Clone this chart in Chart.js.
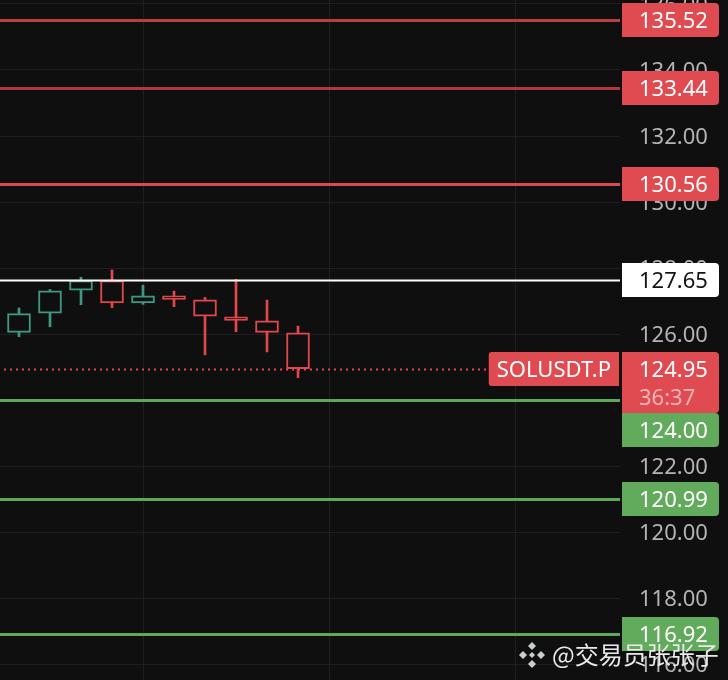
<!DOCTYPE html>
<html>
<head>
<meta charset="utf-8">
<script src="https://cdn.jsdelivr.net/npm/chart.js@4.4.1/dist/chart.umd.min.js"></script>
<style>
    html, body { margin: 0; padding: 0; background: #0f0f0f; }
    #khung { width: 728px; height: 680px; }
</style>
</head>
<body>
<div id="khung"><canvas id="bieuDoNen"></canvas></div>
<script>
// dữ liệu nến
const nenMo   = [126.05, 126.63, 127.33, 127.62, 126.94, 127.16, 127.04, 126.52, 126.40, 126.04];
const nenDong = [126.62, 127.31, 127.62, 126.94, 127.16, 127.05, 126.54, 126.41, 126.05, 124.95];
const nenCao  = [126.79, 127.35, 127.72, 127.94, 127.48, 127.30, 127.11, 127.66, 127.03, 126.24];
const nenThap = [125.92, 126.22, 126.89, 126.80, 126.90, 126.83, 125.37, 126.07, 125.46, 124.68];

// các mức giá kẻ ngang
const mucKhang = [135.52, 133.44, 130.56];
const mucGiuaTrang = [127.65];
const mucHoTro = [124.00, 120.99, 116.92];

// giá hiện tại
const giaHienTai = 124.95;
const demNguoc = "36:37";
const maGiaoDich = "SOLUSDT.P";

// vạch chia trục
const vachTrucY = [116, 118, 120, 122, 124, 126, 128, 130, 132, 134, 136];
const luoiDoc = [4, 10, 16];

const MAU_NEN = "#0f0f0f";
const MAU_TANG = "#3f9883";
const MAU_GIAM = "#e2474c";
const MAU_DO_NHAN = "#e04b51";
const MAU_XANH_NHAN = "#62ab5c";
const MAU_LUOI = "#1e1e1e";
const FONT_SO = "22px 'Noto Sans'";

const chiSo = nenMo.map((_, i) => i);
const mauNen = chiSo.map((i) => (nenDong[i] >= nenMo[i] ? MAU_TANG : MAU_GIAM));

// vẽ đường mức giá + nhãn bên phải
const pluginMucGia = {
    id: "mucGia",
    afterDatasetsDraw(chart) {
        const ctx = chart.ctx;
        const y = chart.scales.y;
        const vung = chart.chartArea;
        ctx.save();

        const veDuong = (gia, mau, day) => {
            const py = Math.round(y.getPixelForValue(gia)) + 0.5;
            ctx.strokeStyle = mau;
            ctx.lineWidth = day;
            ctx.beginPath();
            ctx.moveTo(vung.left, py);
            ctx.lineTo(vung.right, py);
            ctx.stroke();
        };

        const mauKhang = ["#b8403f", "#b03a3b", "#dc4a4d"];
        mucKhang.forEach((g, i) => veDuong(g, mauKhang[i], 3));
        mucGiuaTrang.forEach((g) => veDuong(g, "#ffffff", 2));
        mucHoTro.forEach((g) => veDuong(g, "#5fa85a", 3));

        // đường chấm giá hiện tại
        const pyGia = Math.round(y.getPixelForValue(giaHienTai)) + 0.5;
        ctx.setLineDash([2, 4]);
        ctx.strokeStyle = "#e8474d";
        ctx.lineWidth = 2;
        ctx.beginPath();
        ctx.moveTo(vung.left + 4, pyGia);
        ctx.lineTo(vung.right - 131, pyGia);
        ctx.stroke();
        ctx.setLineDash([]);
        ctx.restore();
    },
    afterDraw(chart) {
        const ctx = chart.ctx;
        const y = chart.scales.y;
        const vung = chart.chartArea;
        const xHop = vung.right + 2;
        const rongHop = 97;
        const caoHop = 34;
        const xChu = vung.right + 19;
        ctx.save();
        ctx.font = FONT_SO;
        ctx.textBaseline = "middle";
        ctx.textAlign = "left";

        // danh sách nhãn
        let nhan = [];
        mucKhang.forEach((g) => nhan.push({ gia: g, nen: MAU_DO_NHAN, chu: "#ffffff", cao: caoHop }));
        mucGiuaTrang.forEach((g) => nhan.push({ gia: g, nen: "#ffffff", chu: "#131313", cao: caoHop }));
        nhan.push({ gia: giaHienTai, nen: MAU_DO_NHAN, chu: "#ffffff", cao: 61, hienTai: true });
        mucHoTro.forEach((g) => nhan.push({ gia: g, nen: MAU_XANH_NHAN, chu: "#ffffff", cao: caoHop }));
        nhan.sort((a, b) => b.gia - a.gia);

        let dayTruoc = -Infinity;
        nhan.forEach((n) => {
            const py = y.getPixelForValue(n.gia);
            let tren = Math.max(Math.round(py - caoHop / 2), dayTruoc);
            ctx.fillStyle = n.nen;
            ctx.beginPath();
            ctx.roundRect(xHop, tren, rongHop, n.cao, [0, 4, 4, 0]);
            ctx.fill();
            ctx.fillStyle = n.chu;
            ctx.fillText(n.gia.toFixed(2), xChu, tren + caoHop / 2 + 2);
            if (n.hienTai) {
                ctx.fillStyle = "#f3b5b7";
                ctx.fillText(demNguoc, xChu, tren + 47);

                // nhãn mã giao dịch
                const rongMa = ctx.measureText(maGiaoDich).width + 16;
                ctx.fillStyle = MAU_DO_NHAN;
                ctx.beginPath();
                ctx.roundRect(vung.right - 1 - rongMa, tren, rongMa, caoHop, [3, 0, 0, 3]);
                ctx.fill();
                ctx.fillStyle = "#ffffff";
                ctx.fillText(maGiaoDich, vung.right - 1 - rongMa + 8, tren + caoHop / 2 + 2);
            }
            dayTruoc = tren + n.cao;
        });

        // hình mờ tác giả
        const xLogo = 532, yLogo = 655;
        ctx.fillStyle = "#c9d0c9";
        const oVuong = (cx, cy, r) => {
            ctx.beginPath();
            ctx.moveTo(cx, cy - r);
            ctx.lineTo(cx + r, cy);
            ctx.lineTo(cx, cy + r);
            ctx.lineTo(cx - r, cy);
            ctx.closePath();
            ctx.fill();
        };
        oVuong(xLogo, yLogo, 3);
        oVuong(xLogo, yLogo - 9, 4);
        oVuong(xLogo, yLogo + 9, 4);
        oVuong(xLogo - 9, yLogo, 4);
        oVuong(xLogo + 9, yLogo, 4);
        ctx.fillStyle = "#e9e9e9";
        ctx.font = "24px 'Noto Sans CJK SC'";
        ctx.fillText("@交易员张张子", 552, yLogo);
        ctx.restore();
    },
};

function veBieuDoNen() {
    new Chart(document.getElementById("bieuDoNen"), {
        type: "bar",
        data: {
            datasets: [
                {
                    label: "than",
                    data: chiSo.map((i) => ({ x: i, y: [nenMo[i], nenDong[i]] })),
                    backgroundColor: MAU_NEN,
                    borderColor: mauNen,
                    borderWidth: 2,
                    borderSkipped: false,
                    barThickness: 23,
                    grouped: false,
                    order: 1,
                },
                {
                    label: "bac",
                    data: chiSo.map((i) => ({ x: i, y: [nenThap[i], nenCao[i]] })),
                    backgroundColor: mauNen,
                    borderWidth: 0,
                    barThickness: 2,
                    grouped: false,
                    order: 2,
                },
            ],
        },
        options: {
            responsive: true,
            maintainAspectRatio: false,
            animation: false,
            layout: { padding: 0 },
            plugins: {
                legend: { display: false },
                tooltip: { enabled: false },
            },
            scales: {
                x: {
                    type: "linear",
                    min: -0.613,
                    max: 19.387,
                    offset: false,
                    grid: { color: MAU_LUOI, drawTicks: false, offset: false },
                    border: { display: false },
                    ticks: { display: false },
                    afterBuildTicks: (truc) => {
                        truc.ticks = luoiDoc.map((v) => ({ value: v }));
                    },
                    afterFit: (truc) => {
                        truc.height = 0;
                        truc.paddingLeft = 0;
                        truc.paddingRight = 0;
                    },
                },
                y: {
                    position: "right",
                    min: 115.52,
                    max: 136.12,
                    beginAtZero: false,
                    grid: { color: MAU_LUOI, drawTicks: false },
                    border: { display: false },
                    ticks: {
                        color: "#b4b4b4",
                        font: { family: "'Noto Sans'", size: 22 },
                        padding: 19,
                        labelOffset: 2,
                        autoSkip: false,
                        callback: (value) => value.toFixed(2),
                    },
                    afterBuildTicks: (truc) => {
                        truc.ticks = vachTrucY.map((v) => ({ value: v }));
                    },
                    afterFit: (truc) => {
                        truc.width = 108;
                        truc.paddingTop = 0;
                        truc.paddingBottom = 0;
                    },
                },
            },
        },
        plugins: [pluginMucGia],
    });
}

document.addEventListener("DOMContentLoaded", veBieuDoNen);
</script>
</body>
</html>
